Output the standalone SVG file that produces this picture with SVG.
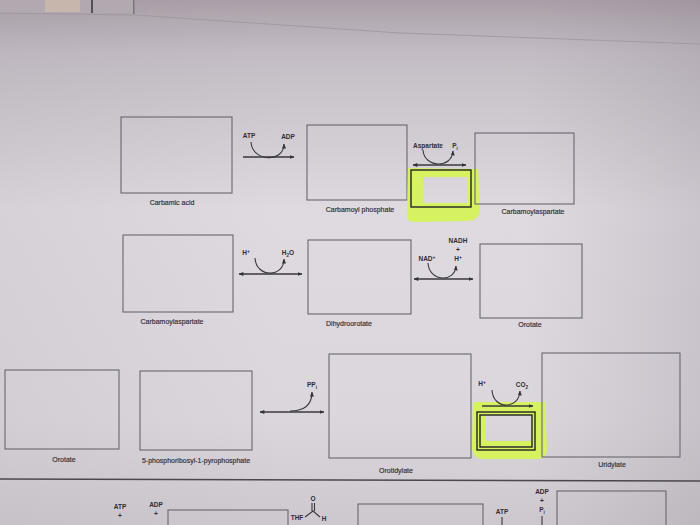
<svg xmlns="http://www.w3.org/2000/svg" width="700" height="525" viewBox="0 0 700 525">
<defs>
<linearGradient id="bgv" x1="0" y1="0" x2="0" y2="1">
<stop offset="0" stop-color="#a99fa8"/>
<stop offset="0.1" stop-color="#c3bcc4"/>
<stop offset="0.4" stop-color="#dedae0"/>
<stop offset="0.8" stop-color="#dad6dc"/>
<stop offset="1" stop-color="#cdc8ce"/>
</linearGradient>
<linearGradient id="bgh" x1="0" y1="0" x2="1" y2="0">
<stop offset="0" stop-color="#8e8590" stop-opacity="0.1"/>
<stop offset="0.4" stop-color="#8e8590" stop-opacity="0"/>
<stop offset="0.75" stop-color="#8e8590" stop-opacity="0"/>
<stop offset="1" stop-color="#7d7480" stop-opacity="0.2"/>
</linearGradient>
<marker id="ah" viewBox="0 0 6 5" refX="5.5" refY="2.5" markerWidth="5" markerHeight="4" markerUnits="userSpaceOnUse" orient="auto-start-reverse">
<path d="M0,0 L6,2.5 L0,5 z" fill="#333"/>
</marker>
<style>
.box{fill:none;stroke:#6a6670;stroke-width:1.1}
.lbl{font-family:"Liberation Sans",Arial,sans-serif;font-size:7px;fill:#2f2d33;stroke:#2f2d33;stroke-width:0.15;text-anchor:middle}
.rl{font-family:"Liberation Sans",Arial,sans-serif;font-size:6.5px;font-weight:bold;fill:#2f2d33;text-anchor:middle}
.ln{fill:none;stroke:#3a383d;stroke-width:1.3}
.cv{fill:none;stroke:#3a383d;stroke-width:1.1}
.hl{fill:#d6f35a;fill-rule:evenodd;opacity:0.95}
.hb{fill:none;stroke:#222;stroke-width:1.4}
</style>
</defs>
<rect width="700" height="525" fill="url(#bgv)"/>
<rect width="700" height="525" fill="url(#bgh)"/>
<rect x="0" y="0" width="135" height="13" fill="#b2a9b0"/>
<rect x="45" y="0" width="35" height="12" fill="#c7b6ab"/>
<rect x="91" y="0" width="2" height="13" fill="#55505a"/>
<rect x="133" y="0" width="1.5" height="14" fill="#78727c"/>
<path d="M0,13 L135,15 L400,33 L700,44" fill="none" stroke="#9d959e" stroke-width="0.8"/>
<path d="M0,479 L700,481" fill="none" stroke="#4a474f" stroke-width="1.4"/>

<g id="carbamic-acid"><rect class="box" x="121" y="117" width="111" height="76"/><text class="lbl" x="172" y="205">Carbamic acid</text></g>
<g id="carbamoyl-phosphate"><rect class="box" x="307" y="125" width="100" height="75"/><text class="lbl" x="360" y="212">Carbamoyl phosphate</text></g>
<g id="blank-1"><path class="hl" d="M408,168 L478,169 L480,210 Q479,221 466,221 L414,222 Q406,222 407,212 Z M423,177 L467,177 L467,203 L423,203 Z"/><rect class="hb" x="411" y="170" width="60" height="37"/></g>
<g id="carbamoylaspartate-1"><rect class="box" x="475" y="133" width="99" height="71"/><text class="lbl" x="533" y="214">Carbamoylaspartate</text></g>

<g id="carbamoylaspartate-2"><rect class="box" x="123" y="235" width="110" height="77"/><text class="lbl" x="172" y="324">Carbamoylaspartate</text></g>
<g id="dihydroorotate"><rect class="box" x="308" y="240" width="103" height="74"/><text class="lbl" x="349" y="326">Dihydroorotate</text></g>
<g id="orotate-1"><rect class="box" x="480" y="244" width="102" height="74"/><text class="lbl" x="530" y="327">Orotate</text></g>

<g id="orotate-2"><rect class="box" x="5" y="370" width="114" height="79"/><text class="lbl" x="64" y="462">Orotate</text></g>
<g id="prpp"><rect class="box" x="140" y="371" width="112" height="79"/><text class="lbl" x="196" y="463">5-phosphoribosyl-1-pyrophosphate</text></g>
<g id="orotidylate"><rect class="box" x="329" y="354" width="142" height="104"/><text class="lbl" x="396" y="473">Orotidylate</text></g>
<g id="blank-2"><path class="hl" d="M473,402 L545,402 L547,450 Q546,459 536,459 L482,459 Q473,458 472,448 Z M486,415 L531,415 L531,441 L486,441 Z"/><rect class="hb" x="477" y="412" width="58" height="38"/><rect class="hb" x="480" y="415" width="52" height="32" stroke-width="0.9"/></g>
<g id="uridylate"><rect class="box" x="542" y="353" width="138" height="104"/><text class="lbl" x="612" y="467">Uridylate</text></g>

<g id="row4-box-1"><rect class="box" x="168" y="510" width="120" height="30"/></g>
<g id="row4-box-2"><rect class="box" x="358" y="504" width="125" height="30"/></g>
<g id="row4-box-3"><rect class="box" x="557" y="491" width="109" height="40"/></g>

<g id="connectors">
<path class="ln" d="M243,157 H294" marker-end="url(#ah)"/>
<path class="cv" d="M251,142 C252,162 284,163 284,144" marker-end="url(#ah)"/>
<text class="rl" x="249" y="138">ATP</text><text class="rl" x="288" y="139">ADP</text>

<path class="ln" d="M413,165 H466" marker-start="url(#ah)" marker-end="url(#ah)"/>
<path class="cv" d="M423,150 C424,168 452,169 453,151" marker-end="url(#ah)"/>
<text class="rl" x="428" y="148" font-size="6">Aspartate</text><text class="rl" x="455" y="148">P<tspan font-size="4.5" dy="1.5">i</tspan></text>

<path class="ln" d="M239,274 H302" marker-start="url(#ah)" marker-end="url(#ah)"/>
<path class="cv" d="M255,258 C256,278 284,278 284,259" marker-end="url(#ah)"/>
<text class="rl" x="246" y="255">H<tspan font-size="5" dy="-2">+</tspan></text><text class="rl" x="288" y="255">H<tspan font-size="4.5" dy="1.5">2</tspan><tspan dy="-1.5">O</tspan></text>

<path class="ln" d="M414,279 H473" marker-start="url(#ah)" marker-end="url(#ah)"/>
<path class="cv" d="M428,263 C429,282 455,283 456,266" marker-end="url(#ah)"/>
<text class="rl" x="458" y="243">NADH</text><text class="rl" x="458" y="252">+</text><text class="rl" x="458" y="261">H<tspan font-size="5" dy="-2">+</tspan></text>
<text class="rl" x="427" y="261">NAD<tspan font-size="5" dy="-2">+</tspan></text>

<path class="ln" d="M260,412 H324" marker-start="url(#ah)" marker-end="url(#ah)"/>
<path class="cv" d="M290,411 C305,411 312,405 312,392" marker-end="url(#ah)"/>
<text class="rl" x="312" y="387">PP<tspan font-size="4.5" dy="1.5">i</tspan></text>

<path class="ln" d="M482,406 H533" marker-end="url(#ah)"/>
<path class="cv" d="M492,390 C493,410 519,410 520,391" marker-end="url(#ah)"/>
<text class="rl" x="482" y="386">H<tspan font-size="5" dy="-2">+</tspan></text><text class="rl" x="522" y="387">CO<tspan font-size="4.5" dy="1.5">2</tspan></text>

<text class="rl" x="120" y="509">ATP</text><text class="rl" x="120" y="518">+</text>
<text class="rl" x="156" y="507">ADP</text><text class="rl" x="156" y="516">+</text>
<text class="rl" x="297" y="520">THF</text>
<path class="cv" d="M305,517 L313,511 L320,517"/>
<path class="cv" d="M312,511 V503 M314.5,511 V503"/>
<text class="rl" x="313" y="501">O</text><text class="rl" x="324" y="521">H</text>
<text class="rl" x="502" y="514">ATP</text>
<path class="cv" d="M502,517 V525"/>
<text class="rl" x="542" y="494">ADP</text><text class="rl" x="542" y="503">+</text><text class="rl" x="542" y="512">P<tspan font-size="4.5" dy="1.5">i</tspan></text>
<path class="cv" d="M542,516 V525"/>
</g>
</svg>
